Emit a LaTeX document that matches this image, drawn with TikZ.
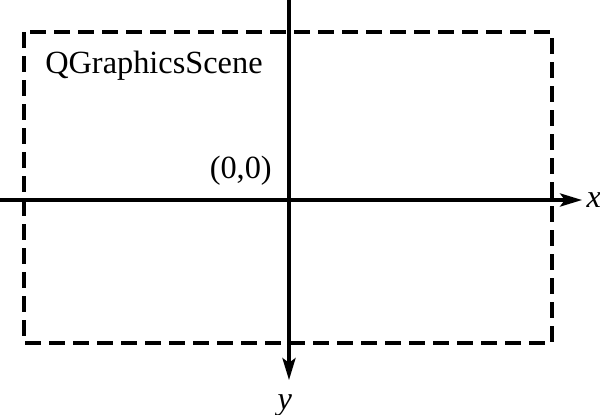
\documentclass[tikz,border=0pt]{standalone}
\usepackage{fontspec}
\setmainfont{Liberation Serif}
\usetikzlibrary{arrows.meta}
\usetikzlibrary{positioning}

\begin{document}
\begin{tikzpicture}[x=0.025cm,y=-0.025cm,
        axis/.style={line width=2.2pt,-{Stealth[length=0.55cm,width=0.33cm,inset=0.12cm]}},
        scenebox/.style={line width=2.5pt,dash pattern=on 0.4cm off 0.2cm},
        lbl/.style={inner sep=0pt,font=\fontsize{23}{27}\selectfont}]
        \useasboundingbox (0,0) rectangle (600,415);
        \draw[scenebox] (24,32) rectangle (552,343);
        \coordinate (xs) at (0,200);
        \coordinate (xe) at (582,200);
        \coordinate (ys) at (289,0);
        \coordinate (ye) at (289,380);
        \draw[axis] (xs) -- (xe);
        \draw[axis] (ys) -- (ye);
        \node[lbl,anchor=west] (scene) at (45,66) {QGraphicsScene};
        \node[lbl,anchor=east] (origin) at (272,171) {(0,0)};
        \node[lbl,right=3pt of xe] (xlab) {\textit{x}};
        \node[lbl,below=10pt of ye,xshift=-3pt] (ylab) {\textit{y}};
    \end{tikzpicture}
\end{document}
